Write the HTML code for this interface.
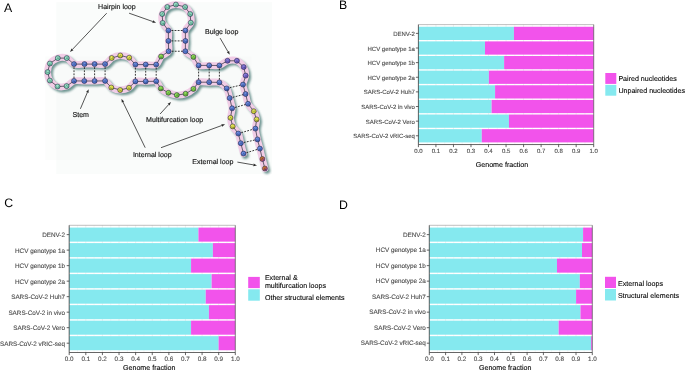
<!DOCTYPE html>
<html><head><meta charset="utf-8"><title>Figure</title>
<style>
html,body{margin:0;padding:0;background:#fff;}
svg{display:block;font-family:"Liberation Sans",sans-serif;text-rendering:geometricPrecision;}
.tk{fill:#4D4D4D;stroke:#4D4D4D;stroke-width:0.12px;}
.ti{font-size:7.1px;fill:#000;stroke:#000;stroke-width:0.1px;}
.lg{font-size:7.1px;fill:#000;stroke:#000;stroke-width:0.1px;}
.pl{font-size:12.3px;fill:#000;}
.la{font-size:7.05px;fill:#141414;stroke:#141414;stroke-width:0.15px;}
.nt{font-size:3.2px;fill:#1a2440;opacity:0.7;}
</style></head><body>
<svg width="685" height="370" viewBox="0 0 685 370">
<rect width="685" height="370" fill="#fff"/>
<defs><filter id="sh" x="-10%" y="-10%" width="120%" height="120%"><feGaussianBlur stdDeviation="0.9"/><feOffset dx="1.9" dy="1.9"/></filter><radialGradient id="gt" cx="0.4" cy="0.35" r="0.7"><stop offset="0" stop-color="#A8EBD0"/><stop offset="0.6" stop-color="#7FD6B4"/><stop offset="1" stop-color="#4FA98A"/></radialGradient><radialGradient id="gb" cx="0.4" cy="0.35" r="0.7"><stop offset="0" stop-color="#7C9AE8"/><stop offset="0.6" stop-color="#4F72D0"/><stop offset="1" stop-color="#3553A8"/></radialGradient><radialGradient id="gy" cx="0.4" cy="0.35" r="0.7"><stop offset="0" stop-color="#F4F46A"/><stop offset="0.6" stop-color="#D8D830"/><stop offset="1" stop-color="#A8A818"/></radialGradient><radialGradient id="gg" cx="0.4" cy="0.35" r="0.7"><stop offset="0" stop-color="#A6EE66"/><stop offset="0.6" stop-color="#74CC38"/><stop offset="1" stop-color="#4E9E22"/></radialGradient><radialGradient id="gp" cx="0.4" cy="0.35" r="0.7"><stop offset="0" stop-color="#9A8AE6"/><stop offset="0.6" stop-color="#7460CC"/><stop offset="1" stop-color="#4F3FA0"/></radialGradient><linearGradient id="ge" x1="0" y1="0" x2="1" y2="1"><stop offset="0" stop-color="#E8A020"/><stop offset="0.5" stop-color="#C06040"/><stop offset="1" stop-color="#8030C0"/></linearGradient></defs>
<rect x="45.3" y="56.5" width="206.2" height="103.5" fill="#FCFDFC"/>
<rect x="56.3" y="2.2" width="215.7" height="171.8" fill="#FAFCFB"/>
<rect x="56.3" y="56.5" width="195.2" height="103.5" fill="#F8FAF9"/>
<path d="M264.90 168.50C264.50 166.98 263.20 162.18 262.40 159.00C261.60 155.82 260.68 151.74 259.90 148.60C259.12 145.46 258.22 142.60 257.50 139.40C256.78 136.20 255.54 131.80 255.40 128.60C255.26 125.40 256.86 122.18 256.60 119.40C256.34 116.62 255.13 113.70 253.75 111.20C252.37 108.70 249.30 106.55 248.00 103.80C246.70 101.05 246.40 97.07 245.60 94.00C244.80 90.93 242.98 87.54 243.00 84.60C243.02 81.66 245.59 78.42 245.70 75.60C245.81 72.78 245.11 69.37 243.70 67.00C242.29 64.63 239.49 61.79 236.90 60.80C234.31 59.81 230.30 60.05 227.50 60.80C224.70 61.55 222.33 64.76 219.40 65.50C216.47 66.24 212.53 65.42 209.20 65.40C205.87 65.38 201.13 66.76 198.60 65.40C196.07 64.04 195.51 59.16 193.40 56.90C191.29 54.64 186.68 53.81 185.40 51.25C184.12 48.69 185.40 44.22 185.40 40.90C185.40 37.58 184.54 33.41 185.40 30.50C186.26 27.59 190.03 25.34 190.80 22.70C191.57 20.06 191.11 16.51 190.20 14.00C189.29 11.49 187.39 8.50 185.10 7.00C182.81 5.50 178.75 4.60 175.90 4.60C173.05 4.60 169.49 5.50 167.30 7.00C165.11 8.50 162.94 11.46 162.20 14.00C161.46 16.54 161.71 20.26 162.70 22.90C163.69 25.54 167.49 27.62 168.40 30.50C169.31 33.38 168.37 37.58 168.40 40.90C168.43 44.22 169.77 48.75 168.60 51.25C167.43 53.75 163.08 54.36 161.10 56.50C159.12 58.64 158.66 63.30 156.20 64.60C153.74 65.90 149.03 64.60 145.70 64.60C142.37 64.60 138.04 65.70 135.40 64.60C132.76 63.50 131.62 59.16 129.20 57.70C126.78 56.24 123.10 55.45 120.30 55.50C117.50 55.55 114.13 56.62 111.70 58.00C109.27 59.38 107.84 63.12 105.10 64.10C102.36 65.08 97.90 64.10 94.60 64.10C91.30 64.10 87.80 64.10 84.50 64.10C81.20 64.10 76.83 65.06 74.00 64.10C71.17 63.14 69.39 59.06 66.80 58.10C64.21 57.14 60.50 57.24 57.80 58.10C55.10 58.96 51.53 61.26 49.90 63.50C48.27 65.74 47.60 69.36 47.60 72.10C47.60 74.84 48.32 78.30 49.90 80.60C51.48 82.90 54.83 85.62 57.50 86.50C60.17 87.38 63.96 87.00 66.60 86.10C69.24 85.20 71.17 81.72 74.00 80.90C76.83 80.08 81.00 80.98 84.30 81.00C87.60 81.02 91.27 81.02 94.60 81.00C97.93 80.98 102.43 79.86 105.10 80.90C107.77 81.94 108.88 86.04 111.30 87.50C113.72 88.96 117.37 89.95 120.20 90.00C123.03 90.05 126.57 89.18 129.00 87.80C131.43 86.42 132.73 82.42 135.40 81.40C138.07 80.38 142.37 81.42 145.70 81.40C149.03 81.38 153.78 80.18 156.20 81.30C158.62 82.42 158.85 86.56 160.80 88.40C162.75 90.24 165.84 91.73 168.40 92.80C170.96 93.87 174.05 94.94 176.80 95.10C179.55 95.26 182.94 94.78 185.60 93.80C188.26 92.82 191.32 90.81 193.40 88.95C195.48 87.09 196.07 83.28 198.60 82.20C201.13 81.12 205.87 82.17 209.20 82.20C212.53 82.23 216.60 81.41 219.40 82.40C222.20 83.39 225.05 85.89 226.70 88.40C228.35 90.91 228.84 94.92 229.70 98.10C230.56 101.28 231.97 105.15 232.10 108.30C232.23 111.45 230.40 114.90 230.50 117.80C230.60 120.70 231.45 123.89 232.70 126.40C233.95 128.91 237.00 130.81 238.30 133.50C239.60 136.19 239.97 139.98 240.80 143.20C241.63 146.42 243.07 151.94 243.50 153.60" fill="none" stroke="#5f8a86" stroke-width="6.6" stroke-linecap="round" stroke-linejoin="round" filter="url(#sh)" opacity="0.9"/>
<path d="M264.90 168.50C264.50 166.98 263.20 162.18 262.40 159.00C261.60 155.82 260.68 151.74 259.90 148.60C259.12 145.46 258.22 142.60 257.50 139.40C256.78 136.20 255.54 131.80 255.40 128.60C255.26 125.40 256.86 122.18 256.60 119.40C256.34 116.62 255.13 113.70 253.75 111.20C252.37 108.70 249.30 106.55 248.00 103.80C246.70 101.05 246.40 97.07 245.60 94.00C244.80 90.93 242.98 87.54 243.00 84.60C243.02 81.66 245.59 78.42 245.70 75.60C245.81 72.78 245.11 69.37 243.70 67.00C242.29 64.63 239.49 61.79 236.90 60.80C234.31 59.81 230.30 60.05 227.50 60.80C224.70 61.55 222.33 64.76 219.40 65.50C216.47 66.24 212.53 65.42 209.20 65.40C205.87 65.38 201.13 66.76 198.60 65.40C196.07 64.04 195.51 59.16 193.40 56.90C191.29 54.64 186.68 53.81 185.40 51.25C184.12 48.69 185.40 44.22 185.40 40.90C185.40 37.58 184.54 33.41 185.40 30.50C186.26 27.59 190.03 25.34 190.80 22.70C191.57 20.06 191.11 16.51 190.20 14.00C189.29 11.49 187.39 8.50 185.10 7.00C182.81 5.50 178.75 4.60 175.90 4.60C173.05 4.60 169.49 5.50 167.30 7.00C165.11 8.50 162.94 11.46 162.20 14.00C161.46 16.54 161.71 20.26 162.70 22.90C163.69 25.54 167.49 27.62 168.40 30.50C169.31 33.38 168.37 37.58 168.40 40.90C168.43 44.22 169.77 48.75 168.60 51.25C167.43 53.75 163.08 54.36 161.10 56.50C159.12 58.64 158.66 63.30 156.20 64.60C153.74 65.90 149.03 64.60 145.70 64.60C142.37 64.60 138.04 65.70 135.40 64.60C132.76 63.50 131.62 59.16 129.20 57.70C126.78 56.24 123.10 55.45 120.30 55.50C117.50 55.55 114.13 56.62 111.70 58.00C109.27 59.38 107.84 63.12 105.10 64.10C102.36 65.08 97.90 64.10 94.60 64.10C91.30 64.10 87.80 64.10 84.50 64.10C81.20 64.10 76.83 65.06 74.00 64.10C71.17 63.14 69.39 59.06 66.80 58.10C64.21 57.14 60.50 57.24 57.80 58.10C55.10 58.96 51.53 61.26 49.90 63.50C48.27 65.74 47.60 69.36 47.60 72.10C47.60 74.84 48.32 78.30 49.90 80.60C51.48 82.90 54.83 85.62 57.50 86.50C60.17 87.38 63.96 87.00 66.60 86.10C69.24 85.20 71.17 81.72 74.00 80.90C76.83 80.08 81.00 80.98 84.30 81.00C87.60 81.02 91.27 81.02 94.60 81.00C97.93 80.98 102.43 79.86 105.10 80.90C107.77 81.94 108.88 86.04 111.30 87.50C113.72 88.96 117.37 89.95 120.20 90.00C123.03 90.05 126.57 89.18 129.00 87.80C131.43 86.42 132.73 82.42 135.40 81.40C138.07 80.38 142.37 81.42 145.70 81.40C149.03 81.38 153.78 80.18 156.20 81.30C158.62 82.42 158.85 86.56 160.80 88.40C162.75 90.24 165.84 91.73 168.40 92.80C170.96 93.87 174.05 94.94 176.80 95.10C179.55 95.26 182.94 94.78 185.60 93.80C188.26 92.82 191.32 90.81 193.40 88.95C195.48 87.09 196.07 83.28 198.60 82.20C201.13 81.12 205.87 82.17 209.20 82.20C212.53 82.23 216.60 81.41 219.40 82.40C222.20 83.39 225.05 85.89 226.70 88.40C228.35 90.91 228.84 94.92 229.70 98.10C230.56 101.28 231.97 105.15 232.10 108.30C232.23 111.45 230.40 114.90 230.50 117.80C230.60 120.70 231.45 123.89 232.70 126.40C233.95 128.91 237.00 130.81 238.30 133.50C239.60 136.19 239.97 139.98 240.80 143.20C241.63 146.42 243.07 151.94 243.50 153.60" fill="none" stroke="#F1CDE6" stroke-width="6.9" stroke-linecap="round" stroke-linejoin="round"/>
<path d="M264.90 168.50 L262.40 159.00 L259.90 148.60 L257.50 139.40 L255.40 128.60 L256.60 119.40 L253.75 111.20 L248.00 103.80 L245.60 94.00 L243.00 84.60 L245.70 75.60 L243.70 67.00 L236.90 60.80 L227.50 60.80 L219.40 65.50 L209.20 65.40 L198.60 65.40 L193.40 56.90 L185.40 51.25 L185.40 40.90 L185.40 30.50 L190.80 22.70 L190.20 14.00 L185.10 7.00 L175.90 4.60 L167.30 7.00 L162.20 14.00 L162.70 22.90 L168.40 30.50 L168.40 40.90 L168.60 51.25 L161.10 56.50 L156.20 64.60 L145.70 64.60 L135.40 64.60 L129.20 57.70 L120.30 55.50 L111.70 58.00 L105.10 64.10 L94.60 64.10 L84.50 64.10 L74.00 64.10 L66.80 58.10 L57.80 58.10 L49.90 63.50 L47.60 72.10 L49.90 80.60 L57.50 86.50 L66.60 86.10 L74.00 80.90 L84.30 81.00 L94.60 81.00 L105.10 80.90 L111.30 87.50 L120.20 90.00 L129.00 87.80 L135.40 81.40 L145.70 81.40 L156.20 81.30 L160.80 88.40 L168.40 92.80 L176.80 95.10 L185.60 93.80 L193.40 88.95 L198.60 82.20 L209.20 82.20 L219.40 82.40 L226.70 88.40 L229.70 98.10 L232.10 108.30 L230.50 117.80 L232.70 126.40 L238.30 133.50 L240.80 143.20 L243.50 153.60" fill="none" stroke="#2b2b3a" stroke-width="0.7" stroke-linejoin="round"/>
<line x1="74.0" y1="64.1" x2="74.0" y2="80.9" stroke="#151515" stroke-width="0.85" stroke-dasharray="1.8 1.3"/>
<line x1="84.4" y1="64.1" x2="84.4" y2="81.0" stroke="#151515" stroke-width="0.85" stroke-dasharray="1.8 1.3"/>
<line x1="94.6" y1="64.1" x2="94.6" y2="81.0" stroke="#151515" stroke-width="0.85" stroke-dasharray="1.8 1.3"/>
<line x1="105.1" y1="64.1" x2="105.1" y2="80.9" stroke="#151515" stroke-width="0.85" stroke-dasharray="1.8 1.3"/>
<line x1="135.4" y1="64.6" x2="135.4" y2="81.4" stroke="#151515" stroke-width="0.85" stroke-dasharray="1.8 1.3"/>
<line x1="145.7" y1="64.6" x2="145.7" y2="81.4" stroke="#151515" stroke-width="0.85" stroke-dasharray="1.8 1.3"/>
<line x1="156.2" y1="64.6" x2="156.2" y2="81.3" stroke="#151515" stroke-width="0.85" stroke-dasharray="1.8 1.3"/>
<line x1="168.4" y1="30.5" x2="185.4" y2="30.5" stroke="#151515" stroke-width="0.85" stroke-dasharray="1.8 1.3"/>
<line x1="168.4" y1="40.9" x2="185.4" y2="40.9" stroke="#151515" stroke-width="0.85" stroke-dasharray="1.8 1.3"/>
<line x1="168.6" y1="51.25" x2="185.4" y2="51.25" stroke="#151515" stroke-width="0.85" stroke-dasharray="1.8 1.3"/>
<line x1="198.6" y1="65.4" x2="198.6" y2="82.2" stroke="#151515" stroke-width="0.85" stroke-dasharray="1.8 1.3"/>
<line x1="209.2" y1="65.4" x2="209.2" y2="82.2" stroke="#151515" stroke-width="0.85" stroke-dasharray="1.8 1.3"/>
<line x1="219.4" y1="65.5" x2="219.4" y2="82.4" stroke="#151515" stroke-width="0.85" stroke-dasharray="1.8 1.3"/>
<line x1="226.7" y1="88.4" x2="243.0" y2="84.6" stroke="#151515" stroke-width="0.85" stroke-dasharray="1.8 1.3"/>
<line x1="229.7" y1="98.1" x2="245.6" y2="94.0" stroke="#151515" stroke-width="0.85" stroke-dasharray="1.8 1.3"/>
<line x1="232.1" y1="108.3" x2="248.0" y2="103.8" stroke="#151515" stroke-width="0.85" stroke-dasharray="1.8 1.3"/>
<line x1="238.3" y1="133.5" x2="255.4" y2="128.6" stroke="#151515" stroke-width="0.85" stroke-dasharray="1.8 1.3"/>
<line x1="240.8" y1="143.2" x2="257.5" y2="139.4" stroke="#151515" stroke-width="0.85" stroke-dasharray="1.8 1.3"/>
<line x1="243.5" y1="153.6" x2="259.9" y2="148.6" stroke="#151515" stroke-width="0.85" stroke-dasharray="1.8 1.3"/>
<circle cx="264.9" cy="168.5" r="2.5" fill="url(#ge)" stroke="#222a44" stroke-width="0.55"/>
<text x="264.9" y="169.7" text-anchor="middle" class="nt">G</text>
<circle cx="262.4" cy="159.0" r="2.5" fill="url(#ge)" stroke="#222a44" stroke-width="0.55"/>
<text x="262.4" y="160.2" text-anchor="middle" class="nt">A</text>
<circle cx="259.9" cy="148.6" r="2.5" fill="url(#gb)" stroke="#222a44" stroke-width="0.55"/>
<text x="259.9" y="149.79999999999998" text-anchor="middle" class="nt">U</text>
<circle cx="257.5" cy="139.4" r="2.5" fill="url(#gb)" stroke="#222a44" stroke-width="0.55"/>
<text x="257.5" y="140.6" text-anchor="middle" class="nt">C</text>
<circle cx="255.4" cy="128.6" r="2.5" fill="url(#gb)" stroke="#222a44" stroke-width="0.55"/>
<text x="255.4" y="129.79999999999998" text-anchor="middle" class="nt">G</text>
<circle cx="256.6" cy="119.4" r="2.5" fill="url(#gy)" stroke="#222a44" stroke-width="0.55"/>
<text x="256.6" y="120.60000000000001" text-anchor="middle" class="nt">G</text>
<circle cx="253.75" cy="111.2" r="2.5" fill="url(#gy)" stroke="#222a44" stroke-width="0.55"/>
<text x="253.75" y="112.4" text-anchor="middle" class="nt">C</text>
<circle cx="248.0" cy="103.8" r="2.5" fill="url(#gb)" stroke="#222a44" stroke-width="0.55"/>
<text x="248.0" y="105.0" text-anchor="middle" class="nt">A</text>
<circle cx="245.6" cy="94.0" r="2.5" fill="url(#gb)" stroke="#222a44" stroke-width="0.55"/>
<text x="245.6" y="95.2" text-anchor="middle" class="nt">U</text>
<circle cx="243.0" cy="84.6" r="2.5" fill="url(#gb)" stroke="#222a44" stroke-width="0.55"/>
<text x="243.0" y="85.8" text-anchor="middle" class="nt">U</text>
<circle cx="245.7" cy="75.6" r="2.5" fill="url(#gp)" stroke="#222a44" stroke-width="0.55"/>
<text x="245.7" y="76.8" text-anchor="middle" class="nt">A</text>
<circle cx="243.7" cy="67.0" r="2.5" fill="url(#gp)" stroke="#222a44" stroke-width="0.55"/>
<text x="243.7" y="68.2" text-anchor="middle" class="nt">G</text>
<circle cx="236.9" cy="60.8" r="2.5" fill="url(#gp)" stroke="#222a44" stroke-width="0.55"/>
<text x="236.9" y="62.0" text-anchor="middle" class="nt">C</text>
<circle cx="227.5" cy="60.8" r="2.5" fill="url(#gp)" stroke="#222a44" stroke-width="0.55"/>
<text x="227.5" y="62.0" text-anchor="middle" class="nt">C</text>
<circle cx="219.4" cy="65.5" r="2.5" fill="url(#gb)" stroke="#222a44" stroke-width="0.55"/>
<text x="219.4" y="66.7" text-anchor="middle" class="nt">G</text>
<circle cx="209.2" cy="65.4" r="2.5" fill="url(#gb)" stroke="#222a44" stroke-width="0.55"/>
<text x="209.2" y="66.60000000000001" text-anchor="middle" class="nt">A</text>
<circle cx="198.6" cy="65.4" r="2.5" fill="url(#gb)" stroke="#222a44" stroke-width="0.55"/>
<text x="198.6" y="66.60000000000001" text-anchor="middle" class="nt">U</text>
<circle cx="193.4" cy="56.9" r="2.5" fill="url(#gg)" stroke="#222a44" stroke-width="0.55"/>
<text x="193.4" y="58.1" text-anchor="middle" class="nt">A</text>
<circle cx="185.4" cy="51.25" r="2.5" fill="url(#gb)" stroke="#222a44" stroke-width="0.55"/>
<text x="185.4" y="52.45" text-anchor="middle" class="nt">C</text>
<circle cx="185.4" cy="40.9" r="2.5" fill="url(#gb)" stroke="#222a44" stroke-width="0.55"/>
<text x="185.4" y="42.1" text-anchor="middle" class="nt">G</text>
<circle cx="185.4" cy="30.5" r="2.5" fill="url(#gb)" stroke="#222a44" stroke-width="0.55"/>
<text x="185.4" y="31.7" text-anchor="middle" class="nt">U</text>
<circle cx="190.8" cy="22.7" r="2.5" fill="url(#gt)" stroke="#222a44" stroke-width="0.55"/>
<text x="190.8" y="23.9" text-anchor="middle" class="nt">A</text>
<circle cx="190.2" cy="14.0" r="2.5" fill="url(#gt)" stroke="#222a44" stroke-width="0.55"/>
<text x="190.2" y="15.2" text-anchor="middle" class="nt">G</text>
<circle cx="185.1" cy="7.0" r="2.5" fill="url(#gt)" stroke="#222a44" stroke-width="0.55"/>
<text x="185.1" y="8.2" text-anchor="middle" class="nt">C</text>
<circle cx="175.9" cy="4.6" r="2.5" fill="url(#gt)" stroke="#222a44" stroke-width="0.55"/>
<text x="175.9" y="5.8" text-anchor="middle" class="nt">U</text>
<circle cx="167.3" cy="7.0" r="2.5" fill="url(#gt)" stroke="#222a44" stroke-width="0.55"/>
<text x="167.3" y="8.2" text-anchor="middle" class="nt">U</text>
<circle cx="162.2" cy="14.0" r="2.5" fill="url(#gt)" stroke="#222a44" stroke-width="0.55"/>
<text x="162.2" y="15.2" text-anchor="middle" class="nt">A</text>
<circle cx="162.7" cy="22.9" r="2.5" fill="url(#gt)" stroke="#222a44" stroke-width="0.55"/>
<text x="162.7" y="24.099999999999998" text-anchor="middle" class="nt">G</text>
<circle cx="168.4" cy="30.5" r="2.5" fill="url(#gb)" stroke="#222a44" stroke-width="0.55"/>
<text x="168.4" y="31.7" text-anchor="middle" class="nt">C</text>
<circle cx="168.4" cy="40.9" r="2.5" fill="url(#gb)" stroke="#222a44" stroke-width="0.55"/>
<text x="168.4" y="42.1" text-anchor="middle" class="nt">C</text>
<circle cx="168.6" cy="51.25" r="2.5" fill="url(#gb)" stroke="#222a44" stroke-width="0.55"/>
<text x="168.6" y="52.45" text-anchor="middle" class="nt">A</text>
<circle cx="161.1" cy="56.5" r="2.5" fill="url(#gg)" stroke="#222a44" stroke-width="0.55"/>
<text x="161.1" y="57.7" text-anchor="middle" class="nt">U</text>
<circle cx="156.2" cy="64.6" r="2.5" fill="url(#gb)" stroke="#222a44" stroke-width="0.55"/>
<text x="156.2" y="65.8" text-anchor="middle" class="nt">G</text>
<circle cx="145.7" cy="64.6" r="2.5" fill="url(#gb)" stroke="#222a44" stroke-width="0.55"/>
<text x="145.7" y="65.8" text-anchor="middle" class="nt">G</text>
<circle cx="135.4" cy="64.6" r="2.5" fill="url(#gb)" stroke="#222a44" stroke-width="0.55"/>
<text x="135.4" y="65.8" text-anchor="middle" class="nt">C</text>
<circle cx="129.2" cy="57.7" r="2.5" fill="url(#gy)" stroke="#222a44" stroke-width="0.55"/>
<text x="129.2" y="58.900000000000006" text-anchor="middle" class="nt">A</text>
<circle cx="120.3" cy="55.5" r="2.5" fill="url(#gy)" stroke="#222a44" stroke-width="0.55"/>
<text x="120.3" y="56.7" text-anchor="middle" class="nt">A</text>
<circle cx="111.7" cy="58.0" r="2.5" fill="url(#gy)" stroke="#222a44" stroke-width="0.55"/>
<text x="111.7" y="59.2" text-anchor="middle" class="nt">U</text>
<circle cx="105.1" cy="64.1" r="2.5" fill="url(#gb)" stroke="#222a44" stroke-width="0.55"/>
<text x="105.1" y="65.3" text-anchor="middle" class="nt">C</text>
<circle cx="94.6" cy="64.1" r="2.5" fill="url(#gb)" stroke="#222a44" stroke-width="0.55"/>
<text x="94.6" y="65.3" text-anchor="middle" class="nt">G</text>
<circle cx="84.5" cy="64.1" r="2.5" fill="url(#gb)" stroke="#222a44" stroke-width="0.55"/>
<text x="84.5" y="65.3" text-anchor="middle" class="nt">G</text>
<circle cx="74.0" cy="64.1" r="2.5" fill="url(#gb)" stroke="#222a44" stroke-width="0.55"/>
<text x="74.0" y="65.3" text-anchor="middle" class="nt">A</text>
<circle cx="66.8" cy="58.1" r="2.5" fill="url(#gt)" stroke="#222a44" stroke-width="0.55"/>
<text x="66.8" y="59.300000000000004" text-anchor="middle" class="nt">U</text>
<circle cx="57.8" cy="58.1" r="2.5" fill="url(#gt)" stroke="#222a44" stroke-width="0.55"/>
<text x="57.8" y="59.300000000000004" text-anchor="middle" class="nt">C</text>
<circle cx="49.9" cy="63.5" r="2.5" fill="url(#gt)" stroke="#222a44" stroke-width="0.55"/>
<text x="49.9" y="64.7" text-anchor="middle" class="nt">C</text>
<circle cx="47.6" cy="72.1" r="2.5" fill="url(#gt)" stroke="#222a44" stroke-width="0.55"/>
<text x="47.6" y="73.3" text-anchor="middle" class="nt">G</text>
<circle cx="49.9" cy="80.6" r="2.5" fill="url(#gt)" stroke="#222a44" stroke-width="0.55"/>
<text x="49.9" y="81.8" text-anchor="middle" class="nt">A</text>
<circle cx="57.5" cy="86.5" r="2.5" fill="url(#gt)" stroke="#222a44" stroke-width="0.55"/>
<text x="57.5" y="87.7" text-anchor="middle" class="nt">U</text>
<circle cx="66.6" cy="86.1" r="2.5" fill="url(#gt)" stroke="#222a44" stroke-width="0.55"/>
<text x="66.6" y="87.3" text-anchor="middle" class="nt">A</text>
<circle cx="74.0" cy="80.9" r="2.5" fill="url(#gb)" stroke="#222a44" stroke-width="0.55"/>
<text x="74.0" y="82.10000000000001" text-anchor="middle" class="nt">G</text>
<circle cx="84.3" cy="81.0" r="2.5" fill="url(#gb)" stroke="#222a44" stroke-width="0.55"/>
<text x="84.3" y="82.2" text-anchor="middle" class="nt">C</text>
<circle cx="94.6" cy="81.0" r="2.5" fill="url(#gb)" stroke="#222a44" stroke-width="0.55"/>
<text x="94.6" y="82.2" text-anchor="middle" class="nt">U</text>
<circle cx="105.1" cy="80.9" r="2.5" fill="url(#gb)" stroke="#222a44" stroke-width="0.55"/>
<text x="105.1" y="82.10000000000001" text-anchor="middle" class="nt">A</text>
<circle cx="111.3" cy="87.5" r="2.5" fill="url(#gy)" stroke="#222a44" stroke-width="0.55"/>
<text x="111.3" y="88.7" text-anchor="middle" class="nt">G</text>
<circle cx="120.2" cy="90.0" r="2.5" fill="url(#gy)" stroke="#222a44" stroke-width="0.55"/>
<text x="120.2" y="91.2" text-anchor="middle" class="nt">G</text>
<circle cx="129.0" cy="87.8" r="2.5" fill="url(#gy)" stroke="#222a44" stroke-width="0.55"/>
<text x="129.0" y="89.0" text-anchor="middle" class="nt">C</text>
<circle cx="135.4" cy="81.4" r="2.5" fill="url(#gb)" stroke="#222a44" stroke-width="0.55"/>
<text x="135.4" y="82.60000000000001" text-anchor="middle" class="nt">A</text>
<circle cx="145.7" cy="81.4" r="2.5" fill="url(#gb)" stroke="#222a44" stroke-width="0.55"/>
<text x="145.7" y="82.60000000000001" text-anchor="middle" class="nt">U</text>
<circle cx="156.2" cy="81.3" r="2.5" fill="url(#gb)" stroke="#222a44" stroke-width="0.55"/>
<text x="156.2" y="82.5" text-anchor="middle" class="nt">C</text>
<circle cx="160.8" cy="88.4" r="2.5" fill="url(#gg)" stroke="#222a44" stroke-width="0.55"/>
<text x="160.8" y="89.60000000000001" text-anchor="middle" class="nt">G</text>
<circle cx="168.4" cy="92.8" r="2.5" fill="url(#gg)" stroke="#222a44" stroke-width="0.55"/>
<text x="168.4" y="94.0" text-anchor="middle" class="nt">A</text>
<circle cx="176.8" cy="95.1" r="2.5" fill="url(#gg)" stroke="#222a44" stroke-width="0.55"/>
<text x="176.8" y="96.3" text-anchor="middle" class="nt">U</text>
<circle cx="185.6" cy="93.8" r="2.5" fill="url(#gg)" stroke="#222a44" stroke-width="0.55"/>
<text x="185.6" y="95.0" text-anchor="middle" class="nt">U</text>
<circle cx="193.4" cy="88.95" r="2.5" fill="url(#gg)" stroke="#222a44" stroke-width="0.55"/>
<text x="193.4" y="90.15" text-anchor="middle" class="nt">A</text>
<circle cx="198.6" cy="82.2" r="2.5" fill="url(#gb)" stroke="#222a44" stroke-width="0.55"/>
<text x="198.6" y="83.4" text-anchor="middle" class="nt">G</text>
<circle cx="209.2" cy="82.2" r="2.5" fill="url(#gb)" stroke="#222a44" stroke-width="0.55"/>
<text x="209.2" y="83.4" text-anchor="middle" class="nt">C</text>
<circle cx="219.4" cy="82.4" r="2.5" fill="url(#gb)" stroke="#222a44" stroke-width="0.55"/>
<text x="219.4" y="83.60000000000001" text-anchor="middle" class="nt">C</text>
<circle cx="226.7" cy="88.4" r="2.5" fill="url(#gb)" stroke="#222a44" stroke-width="0.55"/>
<text x="226.7" y="89.60000000000001" text-anchor="middle" class="nt">G</text>
<circle cx="229.7" cy="98.1" r="2.5" fill="url(#gb)" stroke="#222a44" stroke-width="0.55"/>
<text x="229.7" y="99.3" text-anchor="middle" class="nt">A</text>
<circle cx="232.1" cy="108.3" r="2.5" fill="url(#gb)" stroke="#222a44" stroke-width="0.55"/>
<text x="232.1" y="109.5" text-anchor="middle" class="nt">U</text>
<circle cx="230.5" cy="117.8" r="2.5" fill="url(#gy)" stroke="#222a44" stroke-width="0.55"/>
<text x="230.5" y="119.0" text-anchor="middle" class="nt">A</text>
<circle cx="232.7" cy="126.4" r="2.5" fill="url(#gy)" stroke="#222a44" stroke-width="0.55"/>
<text x="232.7" y="127.60000000000001" text-anchor="middle" class="nt">G</text>
<circle cx="238.3" cy="133.5" r="2.5" fill="url(#gb)" stroke="#222a44" stroke-width="0.55"/>
<text x="238.3" y="134.7" text-anchor="middle" class="nt">C</text>
<circle cx="240.8" cy="143.2" r="2.5" fill="url(#gb)" stroke="#222a44" stroke-width="0.55"/>
<text x="240.8" y="144.39999999999998" text-anchor="middle" class="nt">U</text>
<circle cx="243.5" cy="153.6" r="2.5" fill="url(#gb)" stroke="#222a44" stroke-width="0.55"/>
<text x="243.5" y="154.79999999999998" text-anchor="middle" class="nt">A</text>
<line x1="106.7" y1="13.2" x2="72.47" y2="49.38" stroke="#2a2a2a" stroke-width="0.8"/>
<path d="M70.0 52.0L71.53 48.49L73.42 50.28Z" fill="#2a2a2a"/>
<line x1="129.1" y1="13.2" x2="152.70" y2="21.51" stroke="#2a2a2a" stroke-width="0.8"/>
<path d="M156.1 22.7L152.27 22.73L153.14 20.28Z" fill="#2a2a2a"/>
<line x1="220.1" y1="38.1" x2="227.99" y2="51.69" stroke="#2a2a2a" stroke-width="0.8"/>
<path d="M229.8 54.8L226.87 52.34L229.12 51.03Z" fill="#2a2a2a"/>
<line x1="80.4" y1="108.8" x2="87.29" y2="92.61" stroke="#2a2a2a" stroke-width="0.8"/>
<path d="M88.7 89.3L88.49 93.12L86.09 92.10Z" fill="#2a2a2a"/>
<line x1="160.1" y1="114.0" x2="168.58" y2="104.66" stroke="#2a2a2a" stroke-width="0.8"/>
<path d="M171.0 102.0L169.54 105.54L167.62 103.79Z" fill="#2a2a2a"/>
<line x1="145.2" y1="147.7" x2="122.98" y2="102.04" stroke="#2a2a2a" stroke-width="0.8"/>
<path d="M121.4 98.8L124.14 101.47L121.81 102.61Z" fill="#2a2a2a"/>
<line x1="161.0" y1="147.7" x2="221.72" y2="125.53" stroke="#2a2a2a" stroke-width="0.8"/>
<path d="M225.1 124.3L222.16 126.76L221.27 124.31Z" fill="#2a2a2a"/>
<line x1="237.4" y1="162.1" x2="253.45" y2="164.88" stroke="#2a2a2a" stroke-width="0.8"/>
<path d="M257.0 165.5L253.23 166.17L253.68 163.60Z" fill="#2a2a2a"/>
<text x="98.1" y="8.9" class="la">Hairpin loop</text>
<text x="205.0" y="34.4" class="la">Bulge loop</text>
<text x="72.5" y="116.9" class="la">Stem</text>
<text x="146.1" y="122.2" class="la">Multifurcation loop</text>
<text x="132.9" y="156.5" class="la">Internal loop</text>
<text x="192.3" y="164.4" class="la">External loop</text>
<text x="4" y="11.8" class="pl">A</text>
<text x="338.9" y="8.7" class="pl">B</text>
<text x="4.2" y="207" class="pl">C</text>
<text x="338.9" y="209" class="pl">D</text>
<rect x="418.40" y="24.60" width="175.30" height="119.95" fill="#fff"/>
<line x1="418.40" y1="24.60" x2="418.40" y2="144.55" stroke="#E4E4E4" stroke-width="0.55"/>
<line x1="427.16" y1="24.60" x2="427.16" y2="144.55" stroke="#E4E4E4" stroke-width="0.3"/>
<line x1="435.93" y1="24.60" x2="435.93" y2="144.55" stroke="#E4E4E4" stroke-width="0.55"/>
<line x1="444.69" y1="24.60" x2="444.69" y2="144.55" stroke="#E4E4E4" stroke-width="0.3"/>
<line x1="453.46" y1="24.60" x2="453.46" y2="144.55" stroke="#E4E4E4" stroke-width="0.55"/>
<line x1="462.23" y1="24.60" x2="462.23" y2="144.55" stroke="#E4E4E4" stroke-width="0.3"/>
<line x1="470.99" y1="24.60" x2="470.99" y2="144.55" stroke="#E4E4E4" stroke-width="0.55"/>
<line x1="479.75" y1="24.60" x2="479.75" y2="144.55" stroke="#E4E4E4" stroke-width="0.3"/>
<line x1="488.52" y1="24.60" x2="488.52" y2="144.55" stroke="#E4E4E4" stroke-width="0.55"/>
<line x1="497.29" y1="24.60" x2="497.29" y2="144.55" stroke="#E4E4E4" stroke-width="0.3"/>
<line x1="506.05" y1="24.60" x2="506.05" y2="144.55" stroke="#E4E4E4" stroke-width="0.55"/>
<line x1="514.82" y1="24.60" x2="514.82" y2="144.55" stroke="#E4E4E4" stroke-width="0.3"/>
<line x1="523.58" y1="24.60" x2="523.58" y2="144.55" stroke="#E4E4E4" stroke-width="0.55"/>
<line x1="532.35" y1="24.60" x2="532.35" y2="144.55" stroke="#E4E4E4" stroke-width="0.3"/>
<line x1="541.11" y1="24.60" x2="541.11" y2="144.55" stroke="#E4E4E4" stroke-width="0.55"/>
<line x1="549.88" y1="24.60" x2="549.88" y2="144.55" stroke="#E4E4E4" stroke-width="0.3"/>
<line x1="558.64" y1="24.60" x2="558.64" y2="144.55" stroke="#E4E4E4" stroke-width="0.55"/>
<line x1="567.40" y1="24.60" x2="567.40" y2="144.55" stroke="#E4E4E4" stroke-width="0.3"/>
<line x1="576.17" y1="24.60" x2="576.17" y2="144.55" stroke="#E4E4E4" stroke-width="0.55"/>
<line x1="584.94" y1="24.60" x2="584.94" y2="144.55" stroke="#E4E4E4" stroke-width="0.3"/>
<line x1="593.70" y1="24.60" x2="593.70" y2="144.55" stroke="#E4E4E4" stroke-width="0.55"/>
<rect x="418.40" y="26.76" width="95.54" height="13.24" fill="#85E9EF"/>
<rect x="513.94" y="26.76" width="79.76" height="13.24" fill="#F253EB"/>
<rect x="418.40" y="41.39" width="66.61" height="13.24" fill="#85E9EF"/>
<rect x="485.01" y="41.39" width="108.69" height="13.24" fill="#F253EB"/>
<rect x="418.40" y="56.01" width="85.72" height="13.24" fill="#85E9EF"/>
<rect x="504.12" y="56.01" width="89.58" height="13.24" fill="#F253EB"/>
<rect x="418.40" y="70.64" width="70.47" height="13.24" fill="#85E9EF"/>
<rect x="488.87" y="70.64" width="104.83" height="13.24" fill="#F253EB"/>
<rect x="418.40" y="85.27" width="76.69" height="13.24" fill="#85E9EF"/>
<rect x="495.09" y="85.27" width="98.61" height="13.24" fill="#F253EB"/>
<rect x="418.40" y="99.90" width="73.22" height="13.24" fill="#85E9EF"/>
<rect x="491.62" y="99.90" width="102.08" height="13.24" fill="#F253EB"/>
<rect x="418.40" y="114.53" width="90.52" height="13.24" fill="#85E9EF"/>
<rect x="508.92" y="114.53" width="84.78" height="13.24" fill="#F253EB"/>
<rect x="418.40" y="129.15" width="63.37" height="13.24" fill="#85E9EF"/>
<rect x="481.77" y="129.15" width="111.93" height="13.24" fill="#F253EB"/>
<path d="M418.40 24.60H593.70" fill="none" stroke="#8c8c8c" stroke-width="0.55"/>
<path d="M593.70 24.60V144.55" fill="none" stroke="#555" stroke-width="0.7"/>
<path d="M418.40 24.60V144.55H593.70" fill="none" stroke="#333333" stroke-width="0.75"/>
<line x1="415.90" y1="33.38" x2="418.40" y2="33.38" stroke="#333333" stroke-width="0.75"/>
<text x="414.90" y="35.93" text-anchor="end" font-size="6.0" class="tk">DENV-2</text>
<line x1="415.90" y1="48.00" x2="418.40" y2="48.00" stroke="#333333" stroke-width="0.75"/>
<text x="414.90" y="50.55" text-anchor="end" font-size="6.0" class="tk">HCV genotype 1a</text>
<line x1="415.90" y1="62.63" x2="418.40" y2="62.63" stroke="#333333" stroke-width="0.75"/>
<text x="414.90" y="65.18" text-anchor="end" font-size="6.0" class="tk">HCV genotype 1b</text>
<line x1="415.90" y1="77.26" x2="418.40" y2="77.26" stroke="#333333" stroke-width="0.75"/>
<text x="414.90" y="79.81" text-anchor="end" font-size="6.0" class="tk">HCV genotype 2a</text>
<line x1="415.90" y1="91.89" x2="418.40" y2="91.89" stroke="#333333" stroke-width="0.75"/>
<text x="414.90" y="94.44" text-anchor="end" font-size="6.0" class="tk">SARS-CoV-2 Huh7</text>
<line x1="415.90" y1="106.52" x2="418.40" y2="106.52" stroke="#333333" stroke-width="0.75"/>
<text x="414.90" y="109.07" text-anchor="end" font-size="6.0" class="tk">SARS-CoV-2 in vivo</text>
<line x1="415.90" y1="121.15" x2="418.40" y2="121.15" stroke="#333333" stroke-width="0.75"/>
<text x="414.90" y="123.70" text-anchor="end" font-size="6.0" class="tk">SARS-CoV-2 Vero</text>
<line x1="415.90" y1="135.77" x2="418.40" y2="135.77" stroke="#333333" stroke-width="0.75"/>
<text x="414.90" y="138.32" text-anchor="end" font-size="6.0" class="tk">SARS-CoV-2 vRIC-seq</text>
<line x1="418.40" y1="144.55" x2="418.40" y2="147.15" stroke="#333333" stroke-width="0.75"/>
<text x="418.40" y="152.70" text-anchor="middle" font-size="6.0" class="tk">0.0</text>
<line x1="435.93" y1="144.55" x2="435.93" y2="147.15" stroke="#333333" stroke-width="0.75"/>
<text x="435.93" y="152.70" text-anchor="middle" font-size="6.0" class="tk">0.1</text>
<line x1="453.46" y1="144.55" x2="453.46" y2="147.15" stroke="#333333" stroke-width="0.75"/>
<text x="453.46" y="152.70" text-anchor="middle" font-size="6.0" class="tk">0.2</text>
<line x1="470.99" y1="144.55" x2="470.99" y2="147.15" stroke="#333333" stroke-width="0.75"/>
<text x="470.99" y="152.70" text-anchor="middle" font-size="6.0" class="tk">0.3</text>
<line x1="488.52" y1="144.55" x2="488.52" y2="147.15" stroke="#333333" stroke-width="0.75"/>
<text x="488.52" y="152.70" text-anchor="middle" font-size="6.0" class="tk">0.4</text>
<line x1="506.05" y1="144.55" x2="506.05" y2="147.15" stroke="#333333" stroke-width="0.75"/>
<text x="506.05" y="152.70" text-anchor="middle" font-size="6.0" class="tk">0.5</text>
<line x1="523.58" y1="144.55" x2="523.58" y2="147.15" stroke="#333333" stroke-width="0.75"/>
<text x="523.58" y="152.70" text-anchor="middle" font-size="6.0" class="tk">0.6</text>
<line x1="541.11" y1="144.55" x2="541.11" y2="147.15" stroke="#333333" stroke-width="0.75"/>
<text x="541.11" y="152.70" text-anchor="middle" font-size="6.0" class="tk">0.7</text>
<line x1="558.64" y1="144.55" x2="558.64" y2="147.15" stroke="#333333" stroke-width="0.75"/>
<text x="558.64" y="152.70" text-anchor="middle" font-size="6.0" class="tk">0.8</text>
<line x1="576.17" y1="144.55" x2="576.17" y2="147.15" stroke="#333333" stroke-width="0.75"/>
<text x="576.17" y="152.70" text-anchor="middle" font-size="6.0" class="tk">0.9</text>
<line x1="593.70" y1="144.55" x2="593.70" y2="147.15" stroke="#333333" stroke-width="0.75"/>
<text x="593.70" y="152.70" text-anchor="middle" font-size="6.0" class="tk">1.0</text>
<text x="502.00" y="167.00" text-anchor="middle" class="ti">Genome fraction</text>
<rect x="605.30" y="73.00" width="11.00" height="10.90" fill="#F253EB"/>
<rect x="605.30" y="84.90" width="11.00" height="10.80" fill="#85E9EF"/>
<text x="618.40" y="81.40" class="lg">Paired nucleotides</text>
<text x="618.40" y="92.50" class="lg">Unpaired nucleotides</text>
<rect x="69.20" y="225.30" width="166.10" height="127.20" fill="#fff"/>
<line x1="69.20" y1="225.30" x2="69.20" y2="352.50" stroke="#E4E4E4" stroke-width="0.55"/>
<line x1="77.51" y1="225.30" x2="77.51" y2="352.50" stroke="#E4E4E4" stroke-width="0.3"/>
<line x1="85.81" y1="225.30" x2="85.81" y2="352.50" stroke="#E4E4E4" stroke-width="0.55"/>
<line x1="94.12" y1="225.30" x2="94.12" y2="352.50" stroke="#E4E4E4" stroke-width="0.3"/>
<line x1="102.42" y1="225.30" x2="102.42" y2="352.50" stroke="#E4E4E4" stroke-width="0.55"/>
<line x1="110.73" y1="225.30" x2="110.73" y2="352.50" stroke="#E4E4E4" stroke-width="0.3"/>
<line x1="119.03" y1="225.30" x2="119.03" y2="352.50" stroke="#E4E4E4" stroke-width="0.55"/>
<line x1="127.34" y1="225.30" x2="127.34" y2="352.50" stroke="#E4E4E4" stroke-width="0.3"/>
<line x1="135.64" y1="225.30" x2="135.64" y2="352.50" stroke="#E4E4E4" stroke-width="0.55"/>
<line x1="143.94" y1="225.30" x2="143.94" y2="352.50" stroke="#E4E4E4" stroke-width="0.3"/>
<line x1="152.25" y1="225.30" x2="152.25" y2="352.50" stroke="#E4E4E4" stroke-width="0.55"/>
<line x1="160.56" y1="225.30" x2="160.56" y2="352.50" stroke="#E4E4E4" stroke-width="0.3"/>
<line x1="168.86" y1="225.30" x2="168.86" y2="352.50" stroke="#E4E4E4" stroke-width="0.55"/>
<line x1="177.17" y1="225.30" x2="177.17" y2="352.50" stroke="#E4E4E4" stroke-width="0.3"/>
<line x1="185.47" y1="225.30" x2="185.47" y2="352.50" stroke="#E4E4E4" stroke-width="0.55"/>
<line x1="193.78" y1="225.30" x2="193.78" y2="352.50" stroke="#E4E4E4" stroke-width="0.3"/>
<line x1="202.08" y1="225.30" x2="202.08" y2="352.50" stroke="#E4E4E4" stroke-width="0.55"/>
<line x1="210.38" y1="225.30" x2="210.38" y2="352.50" stroke="#E4E4E4" stroke-width="0.3"/>
<line x1="218.69" y1="225.30" x2="218.69" y2="352.50" stroke="#E4E4E4" stroke-width="0.55"/>
<line x1="227.00" y1="225.30" x2="227.00" y2="352.50" stroke="#E4E4E4" stroke-width="0.3"/>
<line x1="235.30" y1="225.30" x2="235.30" y2="352.50" stroke="#E4E4E4" stroke-width="0.55"/>
<rect x="69.20" y="227.59" width="129.23" height="14.04" fill="#85E9EF"/>
<rect x="198.43" y="227.59" width="36.87" height="14.04" fill="#F253EB"/>
<rect x="69.20" y="243.10" width="143.68" height="14.04" fill="#85E9EF"/>
<rect x="212.88" y="243.10" width="22.42" height="14.04" fill="#F253EB"/>
<rect x="69.20" y="258.61" width="121.87" height="14.04" fill="#85E9EF"/>
<rect x="191.07" y="258.61" width="44.23" height="14.04" fill="#F253EB"/>
<rect x="69.20" y="274.12" width="142.43" height="14.04" fill="#85E9EF"/>
<rect x="211.63" y="274.12" width="23.67" height="14.04" fill="#F253EB"/>
<rect x="69.20" y="289.64" width="136.53" height="14.04" fill="#85E9EF"/>
<rect x="205.73" y="289.64" width="29.57" height="14.04" fill="#F253EB"/>
<rect x="69.20" y="305.15" width="139.69" height="14.04" fill="#85E9EF"/>
<rect x="208.89" y="305.15" width="26.41" height="14.04" fill="#F253EB"/>
<rect x="69.20" y="320.66" width="121.87" height="14.04" fill="#85E9EF"/>
<rect x="191.07" y="320.66" width="44.23" height="14.04" fill="#F253EB"/>
<rect x="69.20" y="336.17" width="149.42" height="14.04" fill="#85E9EF"/>
<rect x="218.62" y="336.17" width="16.68" height="14.04" fill="#F253EB"/>
<path d="M69.20 225.30H235.30" fill="none" stroke="#8c8c8c" stroke-width="0.55"/>
<path d="M235.30 225.30V352.50" fill="none" stroke="#555" stroke-width="0.7"/>
<path d="M69.20 225.30V352.50H235.30" fill="none" stroke="#333333" stroke-width="0.75"/>
<line x1="66.70" y1="234.61" x2="69.20" y2="234.61" stroke="#333333" stroke-width="0.75"/>
<text x="65.00" y="237.01" text-anchor="end" font-size="6.34" class="tk">DENV-2</text>
<line x1="66.70" y1="250.12" x2="69.20" y2="250.12" stroke="#333333" stroke-width="0.75"/>
<text x="65.00" y="252.52" text-anchor="end" font-size="6.34" class="tk">HCV genotype 1a</text>
<line x1="66.70" y1="265.63" x2="69.20" y2="265.63" stroke="#333333" stroke-width="0.75"/>
<text x="65.00" y="268.03" text-anchor="end" font-size="6.34" class="tk">HCV genotype 1b</text>
<line x1="66.70" y1="281.14" x2="69.20" y2="281.14" stroke="#333333" stroke-width="0.75"/>
<text x="65.00" y="283.54" text-anchor="end" font-size="6.34" class="tk">HCV genotype 2a</text>
<line x1="66.70" y1="296.66" x2="69.20" y2="296.66" stroke="#333333" stroke-width="0.75"/>
<text x="65.00" y="299.06" text-anchor="end" font-size="6.34" class="tk">SARS-CoV-2 Huh7</text>
<line x1="66.70" y1="312.17" x2="69.20" y2="312.17" stroke="#333333" stroke-width="0.75"/>
<text x="65.00" y="314.57" text-anchor="end" font-size="6.34" class="tk">SARS-CoV-2 in vivo</text>
<line x1="66.70" y1="327.68" x2="69.20" y2="327.68" stroke="#333333" stroke-width="0.75"/>
<text x="65.00" y="330.08" text-anchor="end" font-size="6.34" class="tk">SARS-CoV-2 Vero</text>
<line x1="66.70" y1="343.19" x2="69.20" y2="343.19" stroke="#333333" stroke-width="0.75"/>
<text x="65.00" y="345.59" text-anchor="end" font-size="6.34" class="tk">SARS-CoV-2 vRIC-seq</text>
<line x1="69.20" y1="352.50" x2="69.20" y2="355.10" stroke="#333333" stroke-width="0.75"/>
<text x="69.20" y="360.50" text-anchor="middle" font-size="6.34" class="tk">0.0</text>
<line x1="85.81" y1="352.50" x2="85.81" y2="355.10" stroke="#333333" stroke-width="0.75"/>
<text x="85.81" y="360.50" text-anchor="middle" font-size="6.34" class="tk">0.1</text>
<line x1="102.42" y1="352.50" x2="102.42" y2="355.10" stroke="#333333" stroke-width="0.75"/>
<text x="102.42" y="360.50" text-anchor="middle" font-size="6.34" class="tk">0.2</text>
<line x1="119.03" y1="352.50" x2="119.03" y2="355.10" stroke="#333333" stroke-width="0.75"/>
<text x="119.03" y="360.50" text-anchor="middle" font-size="6.34" class="tk">0.3</text>
<line x1="135.64" y1="352.50" x2="135.64" y2="355.10" stroke="#333333" stroke-width="0.75"/>
<text x="135.64" y="360.50" text-anchor="middle" font-size="6.34" class="tk">0.4</text>
<line x1="152.25" y1="352.50" x2="152.25" y2="355.10" stroke="#333333" stroke-width="0.75"/>
<text x="152.25" y="360.50" text-anchor="middle" font-size="6.34" class="tk">0.5</text>
<line x1="168.86" y1="352.50" x2="168.86" y2="355.10" stroke="#333333" stroke-width="0.75"/>
<text x="168.86" y="360.50" text-anchor="middle" font-size="6.34" class="tk">0.6</text>
<line x1="185.47" y1="352.50" x2="185.47" y2="355.10" stroke="#333333" stroke-width="0.75"/>
<text x="185.47" y="360.50" text-anchor="middle" font-size="6.34" class="tk">0.7</text>
<line x1="202.08" y1="352.50" x2="202.08" y2="355.10" stroke="#333333" stroke-width="0.75"/>
<text x="202.08" y="360.50" text-anchor="middle" font-size="6.34" class="tk">0.8</text>
<line x1="218.69" y1="352.50" x2="218.69" y2="355.10" stroke="#333333" stroke-width="0.75"/>
<text x="218.69" y="360.50" text-anchor="middle" font-size="6.34" class="tk">0.9</text>
<line x1="235.30" y1="352.50" x2="235.30" y2="355.10" stroke="#333333" stroke-width="0.75"/>
<text x="235.30" y="360.50" text-anchor="middle" font-size="6.34" class="tk">1.0</text>
<text x="149.25" y="370.20" text-anchor="middle" class="ti">Genome fraction</text>
<rect x="248.20" y="276.90" width="11.60" height="11.20" fill="#F253EB"/>
<rect x="248.20" y="289.30" width="11.60" height="11.40" fill="#85E9EF"/>
<text x="264.90" y="279.90" class="lg">External &amp;</text>
<text x="264.90" y="288.40" class="lg">multifurcation loops</text>
<text x="264.90" y="299.50" class="lg">Other structural elements</text>
<rect x="429.30" y="225.30" width="163.00" height="127.20" fill="#fff"/>
<line x1="429.30" y1="225.30" x2="429.30" y2="352.50" stroke="#E4E4E4" stroke-width="0.55"/>
<line x1="437.45" y1="225.30" x2="437.45" y2="352.50" stroke="#E4E4E4" stroke-width="0.3"/>
<line x1="445.60" y1="225.30" x2="445.60" y2="352.50" stroke="#E4E4E4" stroke-width="0.55"/>
<line x1="453.75" y1="225.30" x2="453.75" y2="352.50" stroke="#E4E4E4" stroke-width="0.3"/>
<line x1="461.90" y1="225.30" x2="461.90" y2="352.50" stroke="#E4E4E4" stroke-width="0.55"/>
<line x1="470.05" y1="225.30" x2="470.05" y2="352.50" stroke="#E4E4E4" stroke-width="0.3"/>
<line x1="478.20" y1="225.30" x2="478.20" y2="352.50" stroke="#E4E4E4" stroke-width="0.55"/>
<line x1="486.35" y1="225.30" x2="486.35" y2="352.50" stroke="#E4E4E4" stroke-width="0.3"/>
<line x1="494.50" y1="225.30" x2="494.50" y2="352.50" stroke="#E4E4E4" stroke-width="0.55"/>
<line x1="502.65" y1="225.30" x2="502.65" y2="352.50" stroke="#E4E4E4" stroke-width="0.3"/>
<line x1="510.80" y1="225.30" x2="510.80" y2="352.50" stroke="#E4E4E4" stroke-width="0.55"/>
<line x1="518.95" y1="225.30" x2="518.95" y2="352.50" stroke="#E4E4E4" stroke-width="0.3"/>
<line x1="527.10" y1="225.30" x2="527.10" y2="352.50" stroke="#E4E4E4" stroke-width="0.55"/>
<line x1="535.25" y1="225.30" x2="535.25" y2="352.50" stroke="#E4E4E4" stroke-width="0.3"/>
<line x1="543.40" y1="225.30" x2="543.40" y2="352.50" stroke="#E4E4E4" stroke-width="0.55"/>
<line x1="551.55" y1="225.30" x2="551.55" y2="352.50" stroke="#E4E4E4" stroke-width="0.3"/>
<line x1="559.70" y1="225.30" x2="559.70" y2="352.50" stroke="#E4E4E4" stroke-width="0.55"/>
<line x1="567.85" y1="225.30" x2="567.85" y2="352.50" stroke="#E4E4E4" stroke-width="0.3"/>
<line x1="576.00" y1="225.30" x2="576.00" y2="352.50" stroke="#E4E4E4" stroke-width="0.55"/>
<line x1="584.15" y1="225.30" x2="584.15" y2="352.50" stroke="#E4E4E4" stroke-width="0.3"/>
<line x1="592.30" y1="225.30" x2="592.30" y2="352.50" stroke="#E4E4E4" stroke-width="0.55"/>
<rect x="429.30" y="227.59" width="153.79" height="14.04" fill="#85E9EF"/>
<rect x="583.09" y="227.59" width="9.21" height="14.04" fill="#F253EB"/>
<rect x="429.30" y="243.10" width="152.70" height="14.04" fill="#85E9EF"/>
<rect x="582.00" y="243.10" width="10.30" height="14.04" fill="#F253EB"/>
<rect x="429.30" y="258.61" width="127.68" height="14.04" fill="#85E9EF"/>
<rect x="556.98" y="258.61" width="35.32" height="14.04" fill="#F253EB"/>
<rect x="429.30" y="274.12" width="150.50" height="14.04" fill="#85E9EF"/>
<rect x="579.80" y="274.12" width="12.50" height="14.04" fill="#F253EB"/>
<rect x="429.30" y="289.64" width="146.80" height="14.04" fill="#85E9EF"/>
<rect x="576.10" y="289.64" width="16.20" height="14.04" fill="#F253EB"/>
<rect x="429.30" y="305.15" width="151.20" height="14.04" fill="#85E9EF"/>
<rect x="580.50" y="305.15" width="11.80" height="14.04" fill="#F253EB"/>
<rect x="429.30" y="320.66" width="129.36" height="14.04" fill="#85E9EF"/>
<rect x="558.66" y="320.66" width="33.64" height="14.04" fill="#F253EB"/>
<rect x="429.30" y="336.17" width="161.91" height="14.04" fill="#85E9EF"/>
<rect x="591.21" y="336.17" width="1.09" height="14.04" fill="#F253EB"/>
<path d="M429.30 225.30H592.30" fill="none" stroke="#8c8c8c" stroke-width="0.55"/>
<path d="M592.30 225.30V352.50" fill="none" stroke="#555" stroke-width="0.7"/>
<path d="M429.30 225.30V352.50H592.30" fill="none" stroke="#333333" stroke-width="0.75"/>
<line x1="426.80" y1="234.61" x2="429.30" y2="234.61" stroke="#333333" stroke-width="0.75"/>
<text x="425.80" y="236.81" text-anchor="end" font-size="6.34" class="tk">DENV-2</text>
<line x1="426.80" y1="250.12" x2="429.30" y2="250.12" stroke="#333333" stroke-width="0.75"/>
<text x="425.80" y="252.32" text-anchor="end" font-size="6.34" class="tk">HCV genotype 1a</text>
<line x1="426.80" y1="265.63" x2="429.30" y2="265.63" stroke="#333333" stroke-width="0.75"/>
<text x="425.80" y="267.83" text-anchor="end" font-size="6.34" class="tk">HCV genotype 1b</text>
<line x1="426.80" y1="281.14" x2="429.30" y2="281.14" stroke="#333333" stroke-width="0.75"/>
<text x="425.80" y="283.34" text-anchor="end" font-size="6.34" class="tk">HCV genotype 2a</text>
<line x1="426.80" y1="296.66" x2="429.30" y2="296.66" stroke="#333333" stroke-width="0.75"/>
<text x="425.80" y="298.86" text-anchor="end" font-size="6.34" class="tk">SARS-CoV-2 Huh7</text>
<line x1="426.80" y1="312.17" x2="429.30" y2="312.17" stroke="#333333" stroke-width="0.75"/>
<text x="425.80" y="314.37" text-anchor="end" font-size="6.34" class="tk">SARS-CoV-2 in vivo</text>
<line x1="426.80" y1="327.68" x2="429.30" y2="327.68" stroke="#333333" stroke-width="0.75"/>
<text x="425.80" y="329.88" text-anchor="end" font-size="6.34" class="tk">SARS-CoV-2 Vero</text>
<line x1="426.80" y1="343.19" x2="429.30" y2="343.19" stroke="#333333" stroke-width="0.75"/>
<text x="425.80" y="345.39" text-anchor="end" font-size="6.34" class="tk">SARS-CoV-2 vRIC-seq</text>
<line x1="429.30" y1="352.50" x2="429.30" y2="355.10" stroke="#333333" stroke-width="0.75"/>
<text x="429.30" y="360.50" text-anchor="middle" font-size="6.34" class="tk">0.0</text>
<line x1="445.60" y1="352.50" x2="445.60" y2="355.10" stroke="#333333" stroke-width="0.75"/>
<text x="445.60" y="360.50" text-anchor="middle" font-size="6.34" class="tk">0.1</text>
<line x1="461.90" y1="352.50" x2="461.90" y2="355.10" stroke="#333333" stroke-width="0.75"/>
<text x="461.90" y="360.50" text-anchor="middle" font-size="6.34" class="tk">0.2</text>
<line x1="478.20" y1="352.50" x2="478.20" y2="355.10" stroke="#333333" stroke-width="0.75"/>
<text x="478.20" y="360.50" text-anchor="middle" font-size="6.34" class="tk">0.3</text>
<line x1="494.50" y1="352.50" x2="494.50" y2="355.10" stroke="#333333" stroke-width="0.75"/>
<text x="494.50" y="360.50" text-anchor="middle" font-size="6.34" class="tk">0.4</text>
<line x1="510.80" y1="352.50" x2="510.80" y2="355.10" stroke="#333333" stroke-width="0.75"/>
<text x="510.80" y="360.50" text-anchor="middle" font-size="6.34" class="tk">0.5</text>
<line x1="527.10" y1="352.50" x2="527.10" y2="355.10" stroke="#333333" stroke-width="0.75"/>
<text x="527.10" y="360.50" text-anchor="middle" font-size="6.34" class="tk">0.6</text>
<line x1="543.40" y1="352.50" x2="543.40" y2="355.10" stroke="#333333" stroke-width="0.75"/>
<text x="543.40" y="360.50" text-anchor="middle" font-size="6.34" class="tk">0.7</text>
<line x1="559.70" y1="352.50" x2="559.70" y2="355.10" stroke="#333333" stroke-width="0.75"/>
<text x="559.70" y="360.50" text-anchor="middle" font-size="6.34" class="tk">0.8</text>
<line x1="576.00" y1="352.50" x2="576.00" y2="355.10" stroke="#333333" stroke-width="0.75"/>
<text x="576.00" y="360.50" text-anchor="middle" font-size="6.34" class="tk">0.9</text>
<line x1="592.30" y1="352.50" x2="592.30" y2="355.10" stroke="#333333" stroke-width="0.75"/>
<text x="592.30" y="360.50" text-anchor="middle" font-size="6.34" class="tk">1.0</text>
<text x="505.15" y="370.20" text-anchor="middle" class="ti">Genome fraction</text>
<rect x="605.00" y="276.80" width="11.00" height="11.20" fill="#F253EB"/>
<rect x="605.00" y="289.00" width="11.00" height="11.50" fill="#85E9EF"/>
<text x="618.00" y="286.40" class="lg">External loops</text>
<text x="618.00" y="297.85" class="lg">Structural elements</text>
</svg>
</body></html>
